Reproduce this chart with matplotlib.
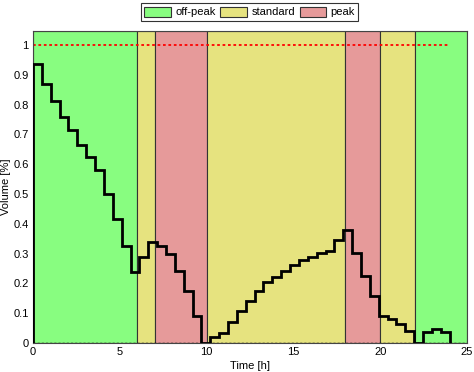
import numpy as np
import matplotlib
matplotlib.use("Agg")
import matplotlib.pyplot as plt
from matplotlib.patches import Patch

plt.rcParams['font.family'] = ['Liberation Sans', 'DejaVu Sans']

# Tariff periods (start, end, category)
period_starts = [0, 6, 7, 10, 18, 20, 22]
period_ends = [6, 7, 10, 18, 20, 22, 25]
period_types = ["off-peak", "standard", "peak", "standard", "peak", "standard", "off-peak"]
type_colors = {"off-peak": "#88fd80", "standard": "#e6e37f", "peak": "#e69a9a"}
legend_labels = ["off-peak", "standard", "peak"]

# Volume step profile (47 steps spanning 0..24 h)
volume = [0.935, 0.868, 0.812, 0.759, 0.713, 0.665, 0.624, 0.581, 0.50, 0.417,
          0.326, 0.238, 0.29, 0.339, 0.324, 0.298, 0.24, 0.173, 0.0915, 0.0,
          0.02, 0.034, 0.07, 0.106, 0.142, 0.173, 0.204, 0.223, 0.243, 0.262,
          0.277, 0.29, 0.302, 0.307, 0.344, 0.38, 0.302, 0.226, 0.156, 0.089,
          0.081, 0.065, 0.041, 0.0, 0.036, 0.048, 0.036]
t_start, t_end = 0, 24
time_edges = np.linspace(t_start, t_end, len(volume) + 1)
v_max = 1.0
v_min = 0.0

fig = plt.figure(figsize=(4.74, 3.72), dpi=100)
ax = fig.add_axes([0.0696, 0.078, 0.9156, 0.839])

for s, e, t in zip(period_starts, period_ends, period_types):
    ax.axvspan(s, e, facecolor=type_colors[t], edgecolor="#333333", lw=0.8, zorder=0)

ax.plot([t_start, t_end], [v_max, v_max], color="red", ls=(0, (1.5, 1.5)), lw=1.3, zorder=2)
ax.plot([t_start, 25], [v_min, v_min], color="black", ls=(0, (1.5, 1.5)), lw=1.0, zorder=2)
ax.stairs(volume, time_edges, baseline=0, color="black", lw=2.0, zorder=3)

ax.set_xlim(0, 25)
ax.set_ylim(0, 1.047)
ax.set_xticks([0, 5, 10, 15, 20, 25])
ax.set_xticklabels(["0", "5", "10", "15", "20", "25"])
ax.set_yticks(np.round(np.arange(0, 1.01, 0.1), 1))
ax.set_yticklabels(["0", "0.1", "0.2", "0.3", "0.4", "0.5", "0.6", "0.7", "0.8", "0.9", "1"])
ax.tick_params(length=0, labelsize=8, pad=3)
ax.set_xlabel("Time [h]", fontsize=8, labelpad=3)
ax.set_ylabel("Volume [%]", fontsize=8, labelpad=2)
for sp in ax.spines.values():
    sp.set_color("#444444")
    sp.set_linewidth(0.8)

handles = [Patch(facecolor=type_colors[l], edgecolor="#333333", lw=0.8, label=l) for l in legend_labels]
leg = fig.legend(handles=handles, loc="upper center", bbox_to_anchor=(0.527, 1.0), ncol=3,
                 fontsize=8, frameon=True, fancybox=False, edgecolor="black",
                 handlelength=2.4, handleheight=1.0, columnspacing=0.4, handletextpad=0.4,
                 borderpad=0.3, borderaxespad=0.3)
leg.get_frame().set_linewidth(0.8)

fig.savefig("out.png", dpi=100)
